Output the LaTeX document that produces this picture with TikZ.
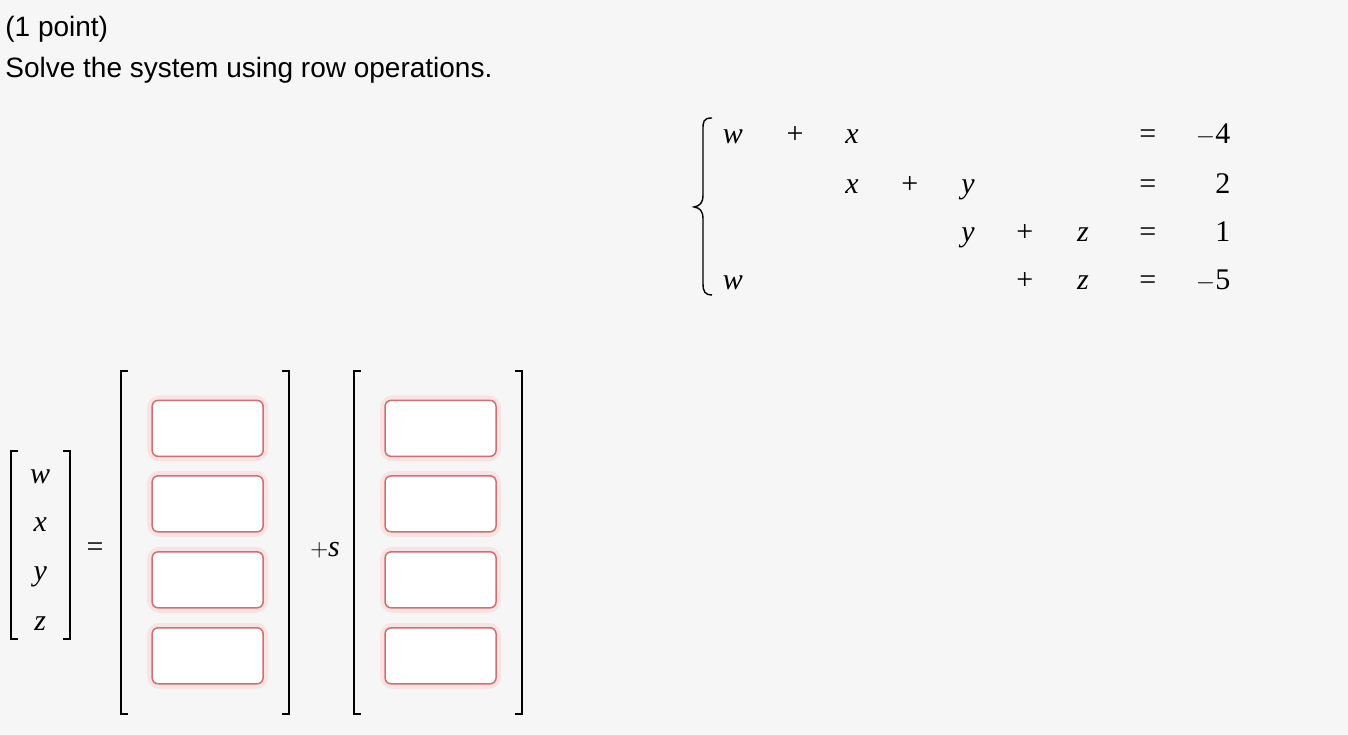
\documentclass[tikz,border=0pt]{standalone}
\usepackage{fontspec}
\setmainfont{Liberation Serif}
\newfontfamily\sans{Liberation Sans}
\begin{document}
\begin{tikzpicture}[x=1pt,y=-1pt,
  mt/.style={font=\fontsize{30}{32}\selectfont\itshape, anchor=base},
  op/.style={font=\fontsize{30}{32}\selectfont, anchor=base},
  ans/.style={draw=red!50!gray!75, line width=1.5pt, fill=white, rounded corners=6pt, minimum width=111pt, minimum height=56pt, inner sep=0pt},
  glow/.style={draw=red!20, line width=7pt, rounded corners=9pt, minimum width=114pt, minimum height=59pt, inner sep=0pt, opacity=0.45},
  br/.style={line width=1.6pt}]
\fill[gray!7] (0,0) rectangle (1348,736);
\draw[gray!30] (0,735.5) -- (1348,735.5);
\node[anchor=base west, font=\sans\fontsize{28}{32}\selectfont, inner sep=0] (t1) at (5,37) {(1 point)};
\node[anchor=base west, font=\sans\fontsize{28}{32}\selectfont, inner sep=0] (t2) at (5,78) {Solve the system using row operations.};
% system
\draw[line width=1.4pt] (712,118) .. controls (703,118) and (703,122) .. (703,130) -- (703,195) .. controls (703,203) and (700,206) .. (694,207)
 .. controls (700,208) and (703,211) .. (703,219) -- (703,283) .. controls (703,292) and (705,295) .. (712,295);
\node[mt] (a1) at (733,144) {w}; \node[op] (a2) at (795,144) {+}; \node[mt] (a3) at (852,144) {x};
\node[op] (a4) at (1148,144) {=}; \node[op,anchor=base east] (a5) at (1234,144) {$-$4};
\node[mt] (b1) at (852,194) {x}; \node[op] (b2) at (910,194) {+}; \node[mt] (b3) at (968,194) {y};
\node[op] (b4) at (1148,194) {=}; \node[op,anchor=base east] (b5) at (1234,194) {2};
\node[mt] (c1) at (968,242) {y}; \node[op] (c2) at (1025,242) {+}; \node[mt] (c3) at (1083,242) {z};
\node[op] (c4) at (1148,242) {=}; \node[op,anchor=base east] (c5) at (1234,242) {1};
\node[mt] (d1) at (733,290) {w}; \node[op] (d2) at (1025,290) {+}; \node[mt] (d3) at (1083,290) {z};
\node[op] (d4) at (1148,290) {=}; \node[op,anchor=base east] (d5) at (1234,290) {$-$5};
% vector
\draw[br] (18,451) -- (11,451) -- (11,639) -- (18,639);
\draw[br] (63,451) -- (70,451) -- (70,639) -- (63,639);
\node[mt] (vw) at (40,484) {w}; \node[mt] (vx) at (40,532) {x};
\node[mt] (vy) at (40,581) {y}; \node[mt] (vz) at (40,631) {z};
\node[op] (eq) at (95,557) {=};
\node[op] (ps) at (325,557) {$+$\textit{s}};
\draw[br] (128,371) -- (121,371) -- (121,714) -- (128,714);
\draw[br] (282,371) -- (289,371) -- (289,714) -- (282,714);
\draw[br] (361,371) -- (354,371) -- (354,714) -- (361,714);
\draw[br] (515,371) -- (522,371) -- (522,714) -- (515,714);
\foreach \i/\yy in {1/428.5,2/504,3/580,4/656}{
  \node[glow] at (207.5,\yy) {}; \node[ans] (p\i) at (207.5,\yy) {};
  \node[glow] at (440.5,\yy) {}; \node[ans] (q\i) at (440.5,\yy) {};
}
\end{tikzpicture}
\end{document}
